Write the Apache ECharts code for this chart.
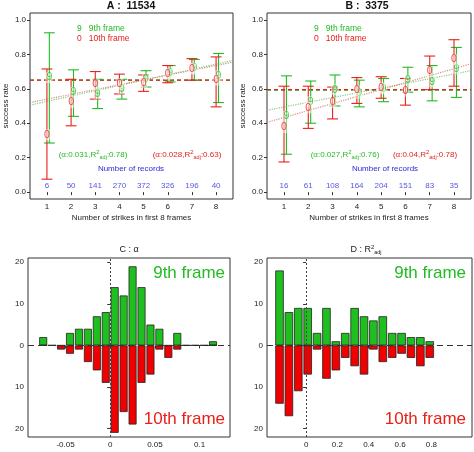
<!DOCTYPE html>
<html><head><meta charset="utf-8">
<script src="https://cdn.jsdelivr.net/npm/echarts@6/dist/echarts.min.js"></script>
<style>html,body{margin:0;padding:0;background:#fff}#c{width:474px;height:452px}</style>
</head><body><div id="c"></div>
<script>
const strikes = [1,2,3,4,5,6,7,8];
// Panel A
const aGreen = [0.665,0.58,0.57,0.60,0.655,0.69,0.72,0.675];
const aGreenLo = [0.285,0.44,0.485,0.54,0.61,0.64,0.65,0.52];
const aGreenHi = [0.925,0.71,0.655,0.655,0.705,0.735,0.77,0.805];
const aRed = [0.333,0.52,0.625,0.63,0.635,0.685,0.715,0.65];
const aRedLo = [0.075,0.385,0.54,0.57,0.585,0.635,0.65,0.495];
const aRedHi = [0.715,0.655,0.70,0.685,0.68,0.735,0.775,0.785];
const aCounts = [6,50,141,270,372,326,196,40];
const aMeanRed = 0.65, aMeanGreen = 0.65;
const aFitGreen = [[0.3,0.505],[8.7,0.765]];
const aFitRed = [[0.3,0.52],[8.7,0.755]];
// Panel B
const bGreen = [0.44,0.525,0.595,0.575,0.60,0.65,0.64,0.715];
const bGreenLo = [0.22,0.40,0.50,0.495,0.525,0.58,0.53,0.55];
const bGreenHi = [0.675,0.645,0.68,0.65,0.66,0.725,0.735,0.84];
const bRed = [0.375,0.49,0.52,0.59,0.605,0.585,0.70,0.77];
const bRedLo = [0.175,0.37,0.425,0.515,0.545,0.505,0.595,0.615];
const bRedHi = [0.615,0.615,0.61,0.665,0.67,0.66,0.79,0.885];
const bCounts = [16,61,108,164,204,151,83,35];
const bMeanRed = 0.595, bMeanGreen = 0.592;
const bFitGreen = [[0.3,0.475],[8.7,0.705]];
const bFitRed = [[0.3,0.405],[8.7,0.745]];
// Panel C (alpha histogram)
const cBins = [-0.075,-0.065,-0.055,-0.045,-0.035,-0.025,-0.015,-0.005,0.005,0.015,0.025,0.035,0.045,0.055,0.065,0.075,0.085,0.095,0.105,0.115];
const cGreen = [2,0,0,3,4,4,7,8,14,12,19,14,5,4,0,3,0,0,0,1];
const cRed =   [0,0,-1,-2,-1,-4,-6,-9,-21,-16,-19,-9,-7,-1,-3,-1,0,0,0,0];
// Panel D (R2adj histogram)
const dBins = [-0.17,-0.11,-0.05,0.01,0.07,0.13,0.19,0.25,0.31,0.37,0.43,0.49,0.55,0.61,0.67,0.73,0.79];
const dGreen = [18,8,9,9,3,9,1,3,9,7,6,7,3,3,2,2,1];
const dRed = [-14,-17,-11,-7,-1,-8,-6,-3,-5,-7,-1,-4,-3,-2,-3,-5,-3];

const G = '#22bb22', R = '#e8201a', B = '#2a2ad8';
const FF = 'Liberation Sans, Arial, sans-serif';
const chart = echarts.init(document.getElementById('c'));

const grids = [
  {left:30, top:13, width:203, height:186},
  {left:267, top:13, width:204, height:186},
  {left:28, top:258, width:202, height:179},
  {left:267, top:258, width:205, height:179}
].map(g => Object.assign(g, {show:true, borderColor:'#333', borderWidth:1}));

const lab = {fontSize:8, color:'#222', fontFamily:FF, margin:4};
function xTop(i){
  return {type:'value', gridIndex:i, min:0.3, max:8.7,
    axisLine:{show:false}, splitLine:{show:false},
    axisTick:{customValues:strikes, length:3, lineStyle:{color:'#333'}},
    axisLabel:Object.assign({customValues:strikes}, lab),
    name:'Number of strikes in first 8 frames', nameLocation:'middle', nameGap:15,
    nameTextStyle:{fontSize:8, color:'#222', fontFamily:FF}};
}
function yTop(i){
  const v=[0,0.2,0.4,0.6,0.8,1.0];
  return {type:'value', gridIndex:i, min:-0.04, max:1.04,
    axisLine:{show:false}, splitLine:{show:false},
    axisTick:{customValues:v, length:3, lineStyle:{color:'#333'}},
    axisLabel:Object.assign({customValues:v, formatter:x=>x.toFixed(1)}, lab),
    name:'success rate', nameLocation:'middle', nameGap:20, nameRotate:90,
    nameTextStyle:{fontSize:8, color:'#222', fontFamily:FF}};
}
function xBot(i,min,max,vals,fmt){
  return {type:'value', gridIndex:i, min:min, max:max,
    axisLine:{show:false}, splitLine:{show:false},
    axisTick:{customValues:vals, length:3, lineStyle:{color:'#333'}},
    axisLabel:Object.assign({customValues:vals, formatter:fmt}, lab)};
}
function yBot(i){
  const v=[-20,-10,0,10,20];
  return {type:'value', gridIndex:i, min:-22, max:21,
    axisLine:{show:false}, splitLine:{show:false},
    axisTick:{customValues:v, length:3, lineStyle:{color:'#333'}},
    axisLabel:Object.assign({customValues:v, formatter:x=>String(Math.abs(x))}, lab)};
}

function errSeries(i, off, lo, hi, color){
  return {type:'custom', xAxisIndex:i, yAxisIndex:i, z:3,
    data: strikes.map((s,k)=>[s+off, lo[k], hi[k]]),
    renderItem:(p,api)=>{
      const x=api.value(0), a=api.coord([x,api.value(1)]), b=api.coord([x,api.value(2)]);
      const w=api.size([0.45,0])[0]/2;
      const st={stroke:color, lineWidth:1.1};
      return {type:'group', children:[
        {type:'line', shape:{x1:a[0],y1:a[1],x2:b[0],y2:b[1]}, style:st},
        {type:'line', shape:{x1:a[0]-w,y1:a[1],x2:a[0]+w,y2:a[1]}, style:st},
        {type:'line', shape:{x1:b[0]-w,y1:b[1],x2:b[0]+w,y2:b[1]}, style:st}]};
    }};
}
function ptSeries(i, off, vals, color, ch){
  return {type:'scatter', xAxisIndex:i, yAxisIndex:i, z:4, symbolSize:1, itemStyle:{color:'rgba(0,0,0,0)'},
    data: strikes.map((s,k)=>[s+off, vals[k]]),
    label:{show:true, position:'inside', formatter:ch, color:color, fontSize:10.5, fontFamily:FF,
      backgroundColor:'rgba(255,255,255,0.6)', padding:[0,1,0,1]}};
}
function lineS(i, pts, color, type){
  return {type:'line', xAxisIndex:i, yAxisIndex:i, data:pts, symbol:'none', silent:true, z:2,
    lineStyle:{color:color, width:1.2, type:type}};
}
function countSeries(i, counts){
  return {type:'scatter', xAxisIndex:i, yAxisIndex:i, symbolSize:1, itemStyle:{color:'rgba(0,0,0,0)'},
    data: strikes.map((s,k)=>[s, 0.035, counts[k]]),
    label:{show:true, position:'inside', formatter:p=>String(p.value[2]), color:B, fontSize:8, fontFamily:FF}};
}
function topPanel(i, g, gl, gh, r, rl, rh, cnt, mg, mr, fg, fr){
  return [
    lineS(i, fg, 'rgba(100,190,100,0.8)', 'dotted'),
    lineS(i, fr, 'rgba(210,110,100,0.8)', 'dotted'),
    lineS(i, [[0.3,mg],[8.7,mg]], G, [4,3]),
    lineS(i, [[0.3,mr],[8.7,mr]], R, [4,3]),
    errSeries(i, 0.1, gl, gh, G), errSeries(i, 0, rl, rh, R),
    ptSeries(i, 0.1, g, G, '9'), ptSeries(i, 0, r, R, '0'),
    countSeries(i, cnt)
  ];
}
function histPanel(i, bins, gv, rv, bw){
  const bs = {borderColor:'#222', borderWidth:0.8};
  return [
    {type:'bar', xAxisIndex:i, yAxisIndex:i, barWidth:bw, barGap:'-100%',
      data: bins.map((b,k)=>[b, gv[k]]), itemStyle:Object.assign({color:'#1fbf1f'}, bs),
      markLine:{silent:true, symbol:'none', label:{show:false}, lineStyle:{color:'#333', type:[6,4], width:1},
        data:[{yAxis:0}, {xAxis:0, lineStyle:{type:[2,2], color:'#444'}}]}},
    {type:'bar', xAxisIndex:i, yAxisIndex:i, barWidth:bw, barGap:'-100%',
      data: bins.map((b,k)=>[b, rv[k]]), itemStyle:Object.assign({color:'#f00000'}, bs)}
  ];
}

function txt(x,y,t,color,size,align,extra){
  return {type:'text', x:x, y:y, style:Object.assign({text:t, fill:color, fontSize:size, fontFamily:FF, align:align||'left', verticalAlign:'middle'}, extra||{})};
}
function rtxt(x,y,a,r2,color){
  return {type:'text', x:x, y:y, style:{text:'(α:'+a+',R{s|2}{b|adj}:'+r2+')', fill:color, fontSize:8, fontFamily:FF, align:'center', verticalAlign:'middle',
    rich:{s:{fontSize:6, fill:color, verticalAlign:'top', padding:[0,0,5,0]}, b:{fontSize:5.5, fill:color, padding:[5,0,0,0]}}}};
}

chart.setOption({
  animation:false,
  grid: grids,
  xAxis: [xTop(0), xTop(1),
    xBot(2, -0.092, 0.134, [-0.05,0,0.05,0.1], v=>String(v)),
    xBot(3, -0.25, 1.06, [0,0.2,0.4,0.6,0.8], v=>v===0?'0':v.toFixed(1))],
  yAxis: [yTop(0), yTop(1), yBot(2), yBot(3)],
  series: [
    ...topPanel(0, aGreen, aGreenLo, aGreenHi, aRed, aRedLo, aRedHi, aCounts, aMeanGreen, aMeanRed, aFitGreen, aFitRed),
    ...topPanel(1, bGreen, bGreenLo, bGreenHi, bRed, bRedLo, bRedHi, bCounts, bMeanGreen, bMeanRed, bFitGreen, bFitRed),
    ...histPanel(2, cBins, cGreen, cRed, 8),
    ...histPanel(3, dBins, dGreen, dRed, 8.5)
  ],
  graphic: [
    txt(131,6,'A :  11534','#111',10.5,'center',{fontWeight:'bold'}),
    txt(367,6,'B :  3375','#111',10.5,'center',{fontWeight:'bold'}),
    txt(77,29,'9   9th frame',G,8.5), txt(77,39,'0   10th frame',R,8.5),
    txt(314,29,'9   9th frame',G,8.5), txt(314,39,'0   10th frame',R,8.5),
    rtxt(93,155,'0.031','0.78',G), rtxt(187,155,'0.028','0.63',R),
    rtxt(345,155,'0.027','0.76',G), rtxt(425,155,'0.04','0.78',R),
    txt(131,169,'Number of records',B,8,'center'), txt(385,169,'Number of records',B,8,'center'),
    txt(129,250,'C : α','#222',9,'center'),
    {type:'text', x:366, y:250, style:{text:'D : R{s|2}{b|adj}', fill:'#222', fontSize:9, fontFamily:FF, align:'center', verticalAlign:'middle',
      rich:{s:{fontSize:6, fill:'#222', padding:[0,0,5,0]}, b:{fontSize:5.5, fill:'#222', padding:[5,0,0,0]}}}},
    txt(225,273,'9th frame',G,17,'right'), txt(225,419,'10th frame',R,17,'right'),
    txt(466,273,'9th frame',G,17,'right'), txt(466,419,'10th frame',R,17,'right')
  ]
});
</script></body></html>
